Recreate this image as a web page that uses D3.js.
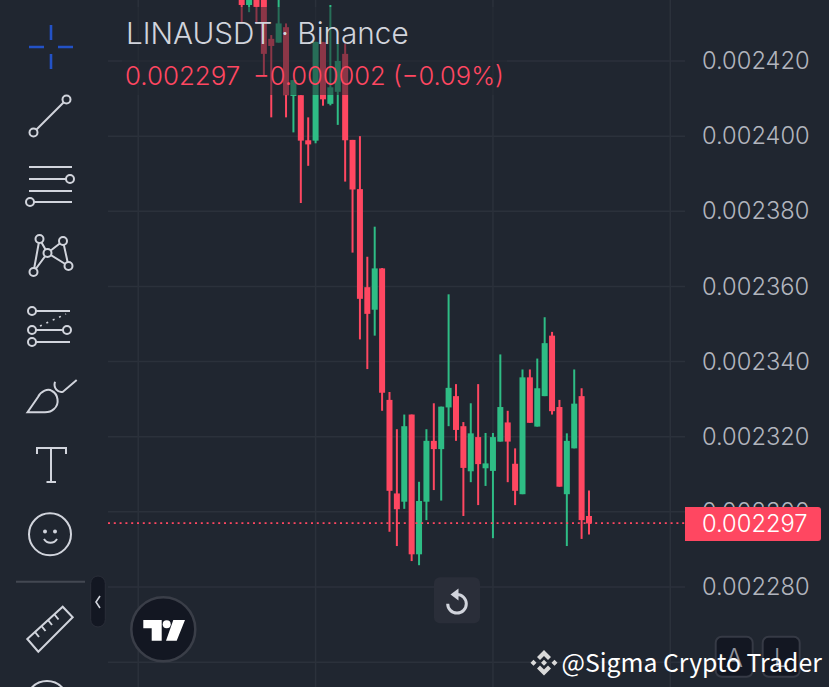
<!DOCTYPE html>
<html>
<head>
<meta charset="utf-8">
<script src="https://cdnjs.cloudflare.com/ajax/libs/d3/7.8.5/d3.min.js"></script>
<style>
html, body { margin: 0; padding: 0; background: #202630; overflow: hidden; }
svg { display: block; }
text { font-family: Inter, sans-serif; }
</style>
</head>
<body>
<svg id="chart" width="829" height="687"></svg>
<script>
// prices in millionths of a USDT
let open = [2437.6, 2434.9, 2437.0, 2437.6, 2425.9, 2424.9, 2429.0, 2410.7, 2410.9, 2398.9, 2398.8, 2425.0,
    2408.6, 2411.8, 2421.9, 2399.0, 2385.9, 2359.8, 2353.8, 2364.8, 2329.8, 2304.9, 2302.7, 2325.9,
    2288.7, 2302.7, 2318.9, 2316.7, 2327.8, 2330.8, 2322.8, 2310.8, 2319.9, 2311.6, 2310.9, 2318.7,
    2323.8, 2312.8, 2304.7, 2335.8, 2322.7, 2330.8, 2346.9, 2327.9, 2304.7, 2316.9, 2330.8, 2298.9];
let close = [2434.9, 2437.6, 2434.4, 2421.9, 2424.0, 2430.0, 2410.9, 2414.9, 2398.8, 2397.8, 2425.1, 2409.8,
    2413.0, 2420.0, 2398.9, 2385.8, 2356.7, 2352.7, 2364.8, 2331.7, 2305.6, 2300.7, 2322.8, 2288.7,
    2302.9, 2318.9, 2316.7, 2328.0, 2333.0, 2321.8, 2311.7, 2320.9, 2312.7, 2312.9, 2319.9, 2327.9,
    2318.7, 2305.6, 2335.8, 2323.7, 2332.9, 2344.9, 2326.8, 2306.7, 2318.9, 2328.8, 2297.8, 2296.9];
let high = [2439.0, 2438.5, 2438.0, 2439.0, 2426.9, 2438.4, 2430.0, 2414.9, 2410.9, 2405.0, 2425.1, 2425.1,
    2434.9, 2424.7, 2424.7, 2399.0, 2400.0, 2367.9, 2375.9, 2364.9, 2331.9, 2322.0, 2325.9, 2325.9,
    2308.0, 2322.0, 2328.9, 2328.0, 2357.9, 2334.0, 2323.9, 2328.9, 2334.0, 2321.0, 2321.0, 2341.9,
    2326.9, 2316.9, 2337.9, 2337.9, 2340.8, 2351.8, 2347.9, 2329.8, 2320.9, 2337.9, 2332.9, 2305.7];
let low = [2430.2, 2433.0, 2430.1, 2416.0, 2405.0, 2424.9, 2405.0, 2401.0, 2382.2, 2392.1, 2398.1, 2408.1,
    2408.2, 2403.0, 2387.9, 2369.0, 2345.9, 2338.0, 2346.9, 2326.9, 2294.7, 2290.9, 2300.8, 2286.9,
    2285.8, 2297.8, 2305.8, 2303.0, 2322.8, 2318.9, 2298.9, 2307.9, 2301.8, 2306.9, 2293.0, 2318.7,
    2307.9, 2301.8, 2304.7, 2323.7, 2322.7, 2330.8, 2325.9, 2306.7, 2290.9, 2316.9, 2292.8, 2294.0];
let priceTicks = [2420, 2400, 2380, 2360, 2340, 2320, 2300, 2280, 2260];
let timeTicks = [-14, 10, 34, 58]; // bar numbers of the vertical grid lines
let lastPrice = 2297;
let title = 'LINAUSDT · Binance';
let legendOpen = '0.002297';
let legendChange = '−0.000002 (−0.09%)';
let mark = '@Sigma Crypto Trader';

let up = '#2ebd85', down = '#ff4761', gridCol = '#2b313b', iconCol = '#d1d4dc', panel = '#131722', bg = '#202630';

let svg = d3.select('#chart');
let fmt = d => (d / 1e6).toFixed(6);

let x = d3.scaleLinear().domain([0, 47]).range([241.7, 589]);
let y = d3.scaleLinear().domain([2280, 2420]).range([587, 61]);

svg.append('rect').attr('width', 829).attr('height', 687).attr('fill', bg);

svg.append('defs').append('clipPath').attr('id', 'plot')
    .append('rect').attr('x', 108).attr('y', 0).attr('width', 577).attr('height', 687);

let plot = svg.append('g').attr('clip-path', 'url(#plot)');

// grid
plot.selectAll('.h').data(priceTicks).enter().append('line')
    .attr('x1', 108).attr('x2', 685)
    .attr('y1', d => y(d)).attr('y2', d => y(d))
    .attr('stroke', gridCol).attr('stroke-width', 1.5);
plot.selectAll('.v').data(timeTicks).enter().append('line')
    .attr('x1', d => x(d)).attr('x2', d => x(d))
    .attr('y1', 0).attr('y2', 687)
    .attr('stroke', gridCol).attr('stroke-width', 1.5);

// candles
let candles = plot.selectAll('.c').data(d3.range(open.length)).enter().append('g');
candles.append('line')
    .attr('x1', i => x(i)).attr('x2', i => x(i))
    .attr('y1', i => y(high[i])).attr('y2', i => y(low[i]))
    .attr('stroke', i => close[i] >= open[i] ? up : down)
    .attr('stroke-width', 2);
candles.append('rect')
    .attr('x', i => x(i) - 3).attr('width', 6)
    .attr('y', i => y(Math.max(open[i], close[i])))
    .attr('height', i => Math.abs(y(open[i]) - y(close[i])))
    .attr('fill', i => close[i] >= open[i] ? up : down);

// last price line
plot.append('line')
    .attr('x1', 108).attr('x2', 685)
    .attr('y1', y(lastPrice)).attr('y2', y(lastPrice))
    .attr('stroke', down).attr('stroke-width', 1.6).attr('stroke-dasharray', '2 3.8');

// price axis
let axis = svg.append('g').attr('transform', 'translate(702,0)')
    .call(d3.axisRight(y).tickValues(priceTicks.filter(d => d >= 2280)).tickSize(0).tickPadding(0).tickFormat(fmt));
axis.select('.domain').remove();
axis.selectAll('text').attr('font-size', 23.7).attr('fill', '#b2b5be').attr('font-weight', 300)
    .style('font-family', 'Inter, sans-serif');

svg.append('path')
    .attr('d', 'M685,507H818a3,3 0 0 1 3,3V538a3,3 0 0 1 -3,3H685Z')
    .attr('fill', down);
svg.append('text').attr('x', 702).attr('y', y(lastPrice) + 8.5).attr('font-weight', 300)
    .attr('font-size', 23.7).attr('fill', '#fff').text(fmt(lastPrice));

// legend, with its translucent backing over the candles
svg.append('rect').attr('x', 122).attr('y', 7).attr('width', 385).attr('height', 88)
    .attr('fill', bg).attr('opacity', 0.52);
svg.append('text').attr('x', 126).attr('y', 44).attr('font-size', 29.7).attr('font-weight', 300)
    .attr('fill', '#d1d4dc').text(title);
svg.append('text').attr('x', 125).attr('y', 85).attr('font-size', 25.9).attr('font-weight', 300)
    .attr('fill', down).text(legendOpen);
svg.append('text').attr('x', 253).attr('y', 85).attr('font-size', 25.5).attr('font-weight', 300)
    .attr('fill', down).text(legendChange);

// left toolbar
function stroke(sel, col, w) {
    return sel.attr('fill', 'none').attr('stroke', col || iconCol).attr('stroke-width', w || 2);
}
function line(d, col, w) { return stroke(svg.append('path').attr('d', d), col, w); }
function dot(cx, cy, r) {
    stroke(svg.append('circle').attr('cx', cx).attr('cy', cy).attr('r', r || 4)).attr('fill', bg);
}

line('M51,25V40M51,54V69M29,47H44M58,47H73', '#2352c6', 2.6);

line('M36.5,129.5L63.5,102.5');
dot(33.5, 132.5); dot(66.5, 99.5);

line('M29,167H72M29,179H66M29,191H72M34,202H72');
dot(70, 179); dot(30, 202);

line('M33.5,272L39.5,239L47.5,253L33.5,272M47.5,253L63,241L68.5,266L47.5,253');
[[39.5, 239], [63, 241], [47.5, 253], [68.5, 266], [33.5, 272]].forEach(p => dot(p[0], p[1]));

line('M36,311H70M36,330H63M36,342H70');
line('M40,326L66,314', iconCol, 1.6).attr('stroke-dasharray', '2 5');
dot(32, 311); dot(32, 330); dot(67, 330); dot(32, 342);

line('M27.5,412.3L38,397C41,391 48,388 52,391C58,394 60,404 54,409C51,412 48,412.3 45,412.3Z');
line('M55,381.7C53,388 58,393 63,391.7L76.7,380');

line('M37,454V448H66V454M51,448V482M46.5,482H56');

stroke(svg.append('circle').attr('cx', 50).attr('cy', 534.3).attr('r', 21));
svg.append('circle').attr('cx', 45).attr('cy', 531.5).attr('r', 2).attr('fill', iconCol);
svg.append('circle').attr('cx', 55).attr('cy', 531.5).attr('r', 2).attr('fill', iconCol);
line('M44,539C47,544 54,544 57,539');

line('M16,581.7H85', '#434852', 2);

line('M27.3,639L62.7,606.7L72.7,617.3L38.3,651.7Z');
line('M35,632L39,637M41.5,626L45.5,631M48,620L52,625M54.5,614.5L58.5,619.5');

stroke(svg.append('circle').attr('cx', 47).attr('cy', 702).attr('r', 21));

svg.append('rect').attr('x', 90.7).attr('y', 576).attr('width', 14.6).attr('height', 51).attr('rx', 7.3)
    .attr('fill', panel).attr('stroke', '#2a2e39');
line('M100,596L96,602L100,608', iconCol, 1.6);

// TradingView badge
svg.append('circle').attr('cx', 163.3).attr('cy', 629.3).attr('r', 32)
    .attr('fill', panel).attr('stroke', '#3a3e48').attr('stroke-width', 2.5);
svg.append('path').attr('fill', '#fff')
    .attr('d', 'M143.3,620H161.7V640.7H151.7V628.3H143.3ZM173.3,620H185L176.7,640.7H166Z');
svg.append('circle').attr('cx', 166.7).attr('cy', 624.3).attr('r', 4).attr('fill', '#fff');

// reset button
svg.append('rect').attr('x', 434).attr('y', 577.3).attr('width', 46).attr('height', 46).attr('rx', 6)
    .attr('fill', '#2a2e39');
line('M457,594.5A9.3,9.3 0 1 1 447.7,603.8', iconCol, 3);
svg.append('path').attr('d', 'M458.5,588.5V600.5L450.5,594.5Z').attr('fill', iconCol);

// A and L buttons
[[715.7, 'A'], [762.7, 'L']].forEach(b => {
    svg.append('rect').attr('x', b[0]).attr('y', 636.7).attr('width', 37).attr('height', 40).attr('rx', 6)
        .attr('fill', panel).attr('stroke', '#363a45').attr('stroke-width', 2);
    svg.append('text').attr('x', b[0] + 18.5).attr('y', 667).attr('text-anchor', 'middle')
        .attr('font-size', 26).attr('font-weight', 300).attr('fill', '#8f939e').text(b[1]);
});

// watermark
svg.append('path').attr('fill', '#d9d9d9')
    .attr('d', 'M544,650L551,657L548,660L544,656L540,660L537,657Z'
        + 'M544,675.5L551,668.5L548,665.5L544,669.5L540,665.5L537,668.5Z'
        + 'M533.5,659.7L536.5,662.7L533.5,665.7L530.5,662.7Z'
        + 'M554.5,659.7L557.5,662.7L554.5,665.7L551.5,662.7Z'
        + 'M544,659.7L547,662.7L544,665.7L541,662.7Z');
svg.append('text').attr('x', 561.5).attr('y', 672)
    .style('font-family', '"Noto Sans CJK SC", sans-serif')
    .attr('font-size', 24.8).attr('fill', '#fff').text(mark);
</script>
</body>
</html>
